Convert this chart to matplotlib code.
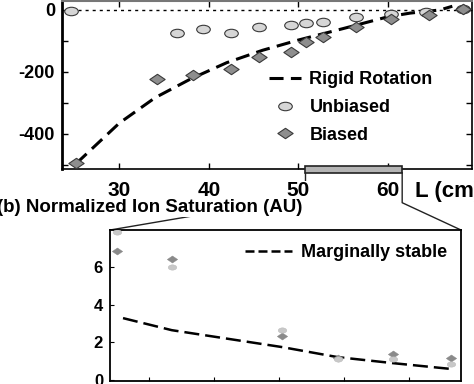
import matplotlib

matplotlib.use("Agg")
import matplotlib.pyplot as plt
from matplotlib.lines import Line2D
from matplotlib.patches import Rectangle
from matplotlib.path import Path
from matplotlib.transforms import Affine2D

plt.rcParams["font.family"] = ["Liberation Sans", "DejaVu Sans"]
plt.rcParams["font.weight"] = "bold"
plt.rcParams["axes.unicode_minus"] = False

# (a) top panel: values vs L (cm)
L_unbiased = [24.6, 36.4, 39.3, 42.5, 45.6, 49.2, 50.9, 52.7, 56.4, 60.3, 64.3, 68.4]
v_unbiased = [-2, -73, -60, -73, -54, -48, -43, -39, -24, -13, -5, 2]
L_biased = [25.2, 34.2, 38.2, 42.5, 45.6, 49.2, 50.9, 52.7, 56.4, 60.3, 64.6, 68.4]
v_biased = [-495, -223, -211, -189, -151, -136, -103, -88, -56, -29, -16, 2]
L_rigid = [25.2, 30, 34, 38, 42, 46, 50, 55, 60, 62.5, 65.8, 67.2]
v_rigid = [-495, -365, -283, -222, -170, -130, -97, -60, -22, -10, 0, 12]
x_ticks = [30, 40, 50, 60]
y_ticks = [-400, -200, 0]
zoom_range = (50.8, 61.6)

# (b) bottom panel: normalized ion saturation
L_b = [51.0, 52.7, 56.1, 57.8, 59.5, 61.3]
ion_unbiased = [7.84, 6.0, 2.67, 1.1, 1.1, 0.85]
ion_biased = [6.84, 6.45, 2.35, 1.17, 1.39, 1.17]
L_stable = [51.2, 52.7, 56.1, 57.8, 59.5, 61.35]
ion_stable = [3.29, 2.65, 1.75, 1.22, 0.9, 0.58]
b_yticks = [0, 2, 4, 6]

ellipse = Path.unit_circle().transformed(Affine2D().scale(1.0, 0.62))
diamond = Path([(0, -0.68), (1, 0), (0, 0.68), (-1, 0), (0, -0.68)], closed=True)

fig = plt.figure(figsize=(4.74, 3.84), dpi=100)
ax1 = fig.add_axes([0.1308, 0.5599, 0.865, 0.4375])
ax2 = fig.add_axes([0.2321, 0.0078, 0.7405, 0.3932])

# ---- top panel
ax1.axhline(0, xmin=0.04, color="black", lw=1, ls=(0, (2.2, 2.9)), zorder=1)
ax1.plot(L_rigid, v_rigid, color="black", lw=2.2, ls=(0, (4.6, 2.4)), zorder=2)
ax1.plot(L_unbiased, v_unbiased, ls="none", marker=ellipse, ms=9.8,
         mfc="#d6d6d6", mec="#3a3a3a", mew=0.8, zorder=3)
ax1.plot(L_biased, v_biased, ls="none", marker=diamond, ms=11,
         mfc="#8e8e8e", mec="#3a3a3a", mew=0.8, zorder=4)

ax1.set_xlim(23.6, 69.4)
ax1.set_ylim(-513, 29)
ax1.set_xticks(x_ticks)
ax1.set_yticks(y_ticks)
ax1.set_yticks([-500, -300, -100], minor=True)
ax1.tick_params(direction="in", length=4, width=1, top=True, right=True)
ax1.tick_params(axis="x", labelsize=15, pad=9)
ax1.tick_params(axis="y", labelsize=13, pad=5)
ax1.tick_params(which="minor", direction="in", length=4, width=1, right=True)
for lbl in ax1.get_xticklabels():
    lbl.set_bbox(dict(fc="white", ec="none", pad=0))
ax1.spines["left"].set_linewidth(2)
ax1.spines["bottom"].set_linewidth(1.2)
ax1.spines["right"].set_linewidth(1.2)
ax1.spines["top"].set_linewidth(1.5)
ax1.spines["top"].set_color("#777777")

ax1.add_patch(Rectangle((zoom_range[0], -525), zoom_range[1] - zoom_range[0], 23,
                        fc="#b4b4b4", ec="#222222", lw=1.2, clip_on=False, zorder=6))

handles = [
    Line2D([], [], color="black", lw=2.2, ls=(0, (4.6, 2.4))),
    Line2D([], [], ls="none", marker=ellipse, ms=9.8, mfc="#d6d6d6", mec="#3a3a3a", mew=0.8),
    Line2D([], [], ls="none", marker=diamond, ms=11, mfc="#8e8e8e", mec="#3a3a3a", mew=0.8),
]
ax1.legend(handles, ["Rigid Rotation", "Unbiased", "Biased"], loc="upper left",
           bbox_to_anchor=(0.567, 0.815), bbox_transform=fig.transFigure,
           frameon=False, fontsize=13, handlelength=1.8, handletextpad=0.45,
           labelspacing=0.6, borderpad=0, borderaxespad=0)

fig.text(0.8755, 0.5026, "L (cm)", ha="left", va="center", fontsize=16)

# ---- bottom panel
ax2.plot(L_stable, ion_stable, color="black", lw=1.8, ls=(0, (6, 2.4)), zorder=2)
ax2.plot(L_b, ion_biased, ls="none", marker=diamond, ms=7.5,
         mfc="#8a8a8a", mec="#8a8a8a", mew=0.3, zorder=3)
ax2.plot(L_b, ion_unbiased, ls="none", marker=ellipse, ms=6.2,
         mfc="#c8c8c8", mec="#b8b8b8", mew=0.3, zorder=4)
ax2.set_xlim(*zoom_range)
ax2.set_ylim(-0.05, 7.97)
ax2.set_xticks([52, 54, 56, 58, 60])
ax2.set_yticks(b_yticks)
ax2.tick_params(direction="in", length=3, width=0.8, labelsize=12, pad=5)
ax2.tick_params(axis="x", labelbottom=False)
for side in ax2.spines.values():
    side.set_linewidth(1.3)
ax2.legend([Line2D([], [], color="black", lw=1.8, ls=(0, (3.6, 1.6)))],
           ["Marginally stable"], loc="upper left",
           bbox_to_anchor=(0.517, 0.365), bbox_transform=fig.transFigure,
           frameon=False, fontsize=13, handlelength=2.6, handletextpad=0.5,
           borderpad=0, borderaxespad=0)

# ---- zoom connectors from the grey bar to panel (b)
to_fig = fig.transFigure.inverted()
bl = ax1.transData.transform((zoom_range[0], -525))
br = ax1.transData.transform((zoom_range[1], -525))
tl = ax2.transAxes.transform((0, 1))
tr = ax2.transAxes.transform((1, 1))
for corner, drop, target in [(bl, 24, tl), (br, 30, tr)]:
    pts = [corner, (corner[0], corner[1] - drop), target]
    fpts = to_fig.transform(pts)
    fig.add_artist(Line2D(fpts[:, 0], fpts[:, 1], color="#222222", lw=1.0, zorder=-1))

fig.text(-0.006, 0.46, "(b) Normalized Ion Saturation (AU)", ha="left", va="center",
         fontsize=13.5, bbox=dict(fc="white", ec="none", pad=0.5), zorder=5)

fig.savefig("out.png", dpi=100)
